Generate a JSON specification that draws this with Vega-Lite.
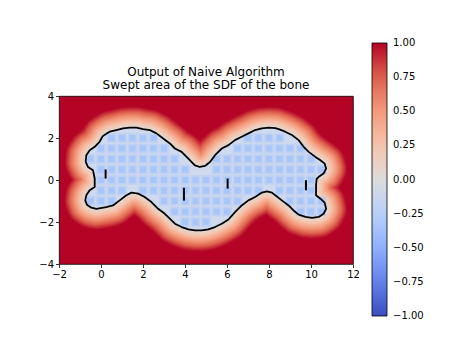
{
  "$schema": "https://vega.github.io/schema/vega-lite/v6.json",
  "width": 294,
  "height": 168,
  "autosize": {"type": "none"},
  "padding": {"left": 59, "top": 96, "right": 121, "bottom": 91},
  "background": "white",
  "config": {
    "view": {"fill": "#b40426", "stroke": "black", "strokeWidth": 0.8},
    "font": "DejaVu Sans",
    "axis": {"grid": false, "domain": false, "tickColor": "black", "tickSize": 3.5, "tickWidth": 0.8, "labelColor": "black", "labelFontSize": 10, "labelFont": "DejaVu Sans", "labelPadding": 2, "labelFlush": false, "title": null}
  },
  "title": {"text": ["Output of Naive Algorithm", "Swept area of the SDF of the bone"], "fontSize": 12, "fontWeight": "normal", "font": "DejaVu Sans", "color": "black", "anchor": "middle", "offset": 6, "lineHeight": 13, "dy": 55},
  "datasets": {
    "boundary": [
      {"i": 1, "x": -0.73, "y": 0.86},
      {"i": 2, "x": -0.70, "y": 1.18},
      {"i": 3, "x": -0.54, "y": 1.42},
      {"i": 4, "x": -0.30, "y": 1.58},
      {"i": 5, "x": -0.07, "y": 1.82},
      {"i": 6, "x": 0.09, "y": 2.10},
      {"i": 7, "x": 0.41, "y": 2.30},
      {"i": 8, "x": 0.73, "y": 2.38},
      {"i": 9, "x": 1.05, "y": 2.46},
      {"i": 10, "x": 1.37, "y": 2.49},
      {"i": 11, "x": 1.69, "y": 2.49},
      {"i": 12, "x": 2.00, "y": 2.42},
      {"i": 13, "x": 2.32, "y": 2.38},
      {"i": 14, "x": 2.64, "y": 2.22},
      {"i": 15, "x": 2.96, "y": 1.98},
      {"i": 16, "x": 3.28, "y": 1.74},
      {"i": 17, "x": 3.52, "y": 1.50},
      {"i": 18, "x": 3.84, "y": 1.34},
      {"i": 19, "x": 4.16, "y": 1.02},
      {"i": 20, "x": 4.47, "y": 0.70},
      {"i": 21, "x": 4.71, "y": 0.62},
      {"i": 22, "x": 4.95, "y": 0.67},
      {"i": 23, "x": 5.19, "y": 0.86},
      {"i": 24, "x": 5.43, "y": 1.18},
      {"i": 25, "x": 5.75, "y": 1.50},
      {"i": 26, "x": 6.07, "y": 1.66},
      {"i": 27, "x": 6.38, "y": 1.90},
      {"i": 28, "x": 6.70, "y": 2.06},
      {"i": 29, "x": 7.02, "y": 2.22},
      {"i": 30, "x": 7.34, "y": 2.38},
      {"i": 31, "x": 7.66, "y": 2.46},
      {"i": 32, "x": 7.98, "y": 2.49},
      {"i": 33, "x": 8.30, "y": 2.47},
      {"i": 34, "x": 8.46, "y": 2.42},
      {"i": 35, "x": 8.77, "y": 2.30},
      {"i": 36, "x": 9.09, "y": 2.14},
      {"i": 37, "x": 9.41, "y": 1.90},
      {"i": 38, "x": 9.65, "y": 1.58},
      {"i": 39, "x": 9.89, "y": 1.34},
      {"i": 40, "x": 10.21, "y": 1.10},
      {"i": 41, "x": 10.45, "y": 0.94},
      {"i": 42, "x": 10.65, "y": 0.78},
      {"i": 43, "x": 10.72, "y": 0.54},
      {"i": 44, "x": 10.60, "y": 0.31},
      {"i": 45, "x": 10.37, "y": 0.15},
      {"i": 46, "x": 10.27, "y": 0.05},
      {"i": 47, "x": 10.24, "y": -0.25},
      {"i": 48, "x": 10.24, "y": -0.73},
      {"i": 49, "x": 10.45, "y": -0.89},
      {"i": 50, "x": 10.65, "y": -1.08},
      {"i": 51, "x": 10.72, "y": -1.37},
      {"i": 52, "x": 10.60, "y": -1.61},
      {"i": 53, "x": 10.37, "y": -1.76},
      {"i": 54, "x": 10.05, "y": -1.80},
      {"i": 55, "x": 9.73, "y": -1.76},
      {"i": 56, "x": 9.41, "y": -1.65},
      {"i": 57, "x": 9.17, "y": -1.45},
      {"i": 58, "x": 8.93, "y": -1.21},
      {"i": 59, "x": 8.61, "y": -0.97},
      {"i": 60, "x": 8.30, "y": -0.73},
      {"i": 61, "x": 8.14, "y": -0.60},
      {"i": 62, "x": 7.90, "y": -0.54},
      {"i": 63, "x": 7.66, "y": -0.60},
      {"i": 64, "x": 7.34, "y": -0.81},
      {"i": 65, "x": 7.02, "y": -0.97},
      {"i": 66, "x": 6.70, "y": -1.21},
      {"i": 67, "x": 6.38, "y": -1.53},
      {"i": 68, "x": 6.07, "y": -1.88},
      {"i": 69, "x": 5.75, "y": -2.08},
      {"i": 70, "x": 5.43, "y": -2.24},
      {"i": 71, "x": 5.11, "y": -2.35},
      {"i": 72, "x": 4.79, "y": -2.40},
      {"i": 73, "x": 4.47, "y": -2.40},
      {"i": 74, "x": 4.16, "y": -2.35},
      {"i": 75, "x": 3.84, "y": -2.24},
      {"i": 76, "x": 3.52, "y": -2.08},
      {"i": 77, "x": 3.36, "y": -1.92},
      {"i": 78, "x": 3.04, "y": -1.61},
      {"i": 79, "x": 2.72, "y": -1.37},
      {"i": 80, "x": 2.40, "y": -1.05},
      {"i": 81, "x": 2.08, "y": -0.81},
      {"i": 82, "x": 1.77, "y": -0.65},
      {"i": 83, "x": 1.45, "y": -0.60},
      {"i": 84, "x": 1.21, "y": -0.73},
      {"i": 85, "x": 0.89, "y": -0.97},
      {"i": 86, "x": 0.57, "y": -1.21},
      {"i": 87, "x": 0.25, "y": -1.29},
      {"i": 88, "x": -0.22, "y": -1.37},
      {"i": 89, "x": -0.46, "y": -1.32},
      {"i": 90, "x": -0.67, "y": -1.18},
      {"i": 91, "x": -0.75, "y": -0.97},
      {"i": 92, "x": -0.70, "y": -0.73},
      {"i": 93, "x": -0.54, "y": -0.49},
      {"i": 94, "x": -0.30, "y": -0.33},
      {"i": 95, "x": -0.30, "y": 0.07},
      {"i": 96, "x": -0.38, "y": 0.46},
      {"i": 97, "x": -0.62, "y": 0.62},
      {"i": 98, "x": -0.73, "y": 0.86}
    ],
    "blobs": [
      {"x": -0.5, "y": 1.0}, {"x": -0.5, "y": -1.0},
      {"x": 0, "y": 1.5}, {"x": 0, "y": 1.0}, {"x": 0, "y": 0.5}, {"x": 0, "y": 0}, {"x": 0, "y": -0.5}, {"x": 0, "y": -1.0},
      {"x": 0.5, "y": 2.0}, {"x": 0.5, "y": 1.5}, {"x": 0.5, "y": 1.0}, {"x": 0.5, "y": 0.5}, {"x": 0.5, "y": 0}, {"x": 0.5, "y": -0.5}, {"x": 0.5, "y": -1.0},
      {"x": 1, "y": 2.0}, {"x": 1, "y": 1.5}, {"x": 1, "y": 1.0}, {"x": 1, "y": 0.5}, {"x": 1, "y": 0}, {"x": 1, "y": -0.5},
      {"x": 1.5, "y": 2.0}, {"x": 1.5, "y": 1.5}, {"x": 1.5, "y": 1.0}, {"x": 1.5, "y": 0.5}, {"x": 1.5, "y": 0},
      {"x": 2, "y": 2.0}, {"x": 2, "y": 1.5}, {"x": 2, "y": 1.0}, {"x": 2, "y": 0.5}, {"x": 2, "y": 0}, {"x": 2, "y": -0.5},
      {"x": 2.5, "y": 2.0}, {"x": 2.5, "y": 1.5}, {"x": 2.5, "y": 1.0}, {"x": 2.5, "y": 0.5}, {"x": 2.5, "y": 0}, {"x": 2.5, "y": -0.5},
      {"x": 3, "y": 1.5}, {"x": 3, "y": 1.0}, {"x": 3, "y": 0.5}, {"x": 3, "y": 0}, {"x": 3, "y": -0.5}, {"x": 3, "y": -1.0},
      {"x": 3.5, "y": 1.0}, {"x": 3.5, "y": 0.5}, {"x": 3.5, "y": 0}, {"x": 3.5, "y": -0.5}, {"x": 3.5, "y": -1.0}, {"x": 3.5, "y": -1.5},
      {"x": 4, "y": 0.5}, {"x": 4, "y": 0}, {"x": 4, "y": -0.5}, {"x": 4, "y": -1.0}, {"x": 4, "y": -1.5}, {"x": 4, "y": -2.0},
      {"x": 4.5, "y": 0}, {"x": 4.5, "y": -0.5}, {"x": 4.5, "y": -1.0}, {"x": 4.5, "y": -1.5}, {"x": 4.5, "y": -2.0},
      {"x": 5, "y": 0}, {"x": 5, "y": -0.5}, {"x": 5, "y": -1.0}, {"x": 5, "y": -1.5}, {"x": 5, "y": -2.0},
      {"x": 5.5, "y": 1.0}, {"x": 5.5, "y": 0.5}, {"x": 5.5, "y": 0}, {"x": 5.5, "y": -0.5}, {"x": 5.5, "y": -1.0}, {"x": 5.5, "y": -1.5},
      {"x": 6, "y": 1.0}, {"x": 6, "y": 0.5}, {"x": 6, "y": 0}, {"x": 6, "y": -0.5}, {"x": 6, "y": -1.0}, {"x": 6, "y": -1.5},
      {"x": 6.5, "y": 1.5}, {"x": 6.5, "y": 1.0}, {"x": 6.5, "y": 0.5}, {"x": 6.5, "y": 0}, {"x": 6.5, "y": -0.5}, {"x": 6.5, "y": -1.0},
      {"x": 7, "y": 2.0}, {"x": 7, "y": 1.5}, {"x": 7, "y": 1.0}, {"x": 7, "y": 0.5}, {"x": 7, "y": 0}, {"x": 7, "y": -0.5},
      {"x": 7.5, "y": 2.0}, {"x": 7.5, "y": 1.5}, {"x": 7.5, "y": 1.0}, {"x": 7.5, "y": 0.5}, {"x": 7.5, "y": 0}, {"x": 7.5, "y": -0.5},
      {"x": 8, "y": 2.0}, {"x": 8, "y": 1.5}, {"x": 8, "y": 1.0}, {"x": 8, "y": 0.5}, {"x": 8, "y": 0},
      {"x": 8.5, "y": 2.0}, {"x": 8.5, "y": 1.5}, {"x": 8.5, "y": 1.0}, {"x": 8.5, "y": 0.5}, {"x": 8.5, "y": 0}, {"x": 8.5, "y": -0.5},
      {"x": 9, "y": 1.5}, {"x": 9, "y": 1.0}, {"x": 9, "y": 0.5}, {"x": 9, "y": 0}, {"x": 9, "y": -0.5}, {"x": 9, "y": -1.0},
      {"x": 9.5, "y": 1.5}, {"x": 9.5, "y": 1.0}, {"x": 9.5, "y": 0.5}, {"x": 9.5, "y": 0}, {"x": 9.5, "y": -0.5}, {"x": 9.5, "y": -1.0}, {"x": 9.5, "y": -1.5},
      {"x": 10, "y": 1.0}, {"x": 10, "y": 0.5}, {"x": 10, "y": 0}, {"x": 10, "y": -0.5}, {"x": 10, "y": -1.0}, {"x": 10, "y": -1.5},
      {"x": 10.5, "y": 0.5}, {"x": 10.5, "y": -1.0}, {"x": 10.5, "y": -1.5}
    ],
    "bone": [
      {"x": 0.22, "y": 0.07, "y2": 0.5},
      {"x": 3.95, "y": -0.98, "y2": -0.37},
      {"x": 6.03, "y": -0.41, "y2": 0.07},
      {"x": 9.76, "y": -0.49, "y2": -0.01}
    ]
  },
  "layer": [
    {
      "data": {"name": "boundary"},
      "encoding": {
        "x": {"field": "x", "type": "quantitative", "scale": {"domain": [-2, 12], "nice": false, "zero": false}, "axis": {"values": [-2, 0, 2, 4, 6, 8, 10, 12]}},
        "y": {"field": "y", "type": "quantitative", "scale": {"domain": [-4, 4], "nice": false, "zero": false}, "axis": {"values": [-4, -3, -2, -1, 0, 1, 2, 3, 4]}},
        "order": {"field": "i", "type": "quantitative"}
      },
      "layer": [
        {"mark": {"type": "line", "strokeWidth": 42, "strokeJoin": "round", "strokeCap": "round"},
         "encoding": {"color": {"datum": 0.975, "type": "quantitative",
           "scale": {"domain": [-1, -0.75, -0.5, -0.25, 0, 0.25, 0.5, 0.75, 1], "range": ["#3b4cc0", "#6282ea", "#8db0fe", "#b8d0f9", "#dddcdc", "#f5c4ac", "#f49a7b", "#de604d", "#b40426"], "interpolate": "rgb"},
           "legend": {"orient": "none", "legendX": 313, "legendY": -53, "direction": "vertical", "gradientLength": 273, "gradientThickness": 15, "title": null, "values": [-1, -0.75, -0.5, -0.25, 0, 0.25, 0.5, 0.75, 1], "format": ".2f", "labelFontSize": 10, "labelFont": "DejaVu Sans", "labelColor": "black", "labelOverlap": false, "labelOffset": 6, "gradientStrokeColor": "black", "gradientStrokeWidth": 0.8,
             "encode": {"labels": {"update": {"baseline": {"value": "middle"}}}}}}}},
        {"mark": {"type": "line", "strokeWidth": 39.9, "strokeJoin": "round", "strokeCap": "round"}, "encoding": {"color": {"datum": 0.925, "type": "quantitative"}}},
        {"mark": {"type": "line", "strokeWidth": 37.8, "strokeJoin": "round", "strokeCap": "round"}, "encoding": {"color": {"datum": 0.875, "type": "quantitative"}}},
        {"mark": {"type": "line", "strokeWidth": 35.7, "strokeJoin": "round", "strokeCap": "round"}, "encoding": {"color": {"datum": 0.825, "type": "quantitative"}}},
        {"mark": {"type": "line", "strokeWidth": 33.6, "strokeJoin": "round", "strokeCap": "round"}, "encoding": {"color": {"datum": 0.775, "type": "quantitative"}}},
        {"mark": {"type": "line", "strokeWidth": 31.5, "strokeJoin": "round", "strokeCap": "round"}, "encoding": {"color": {"datum": 0.725, "type": "quantitative"}}},
        {"mark": {"type": "line", "strokeWidth": 29.4, "strokeJoin": "round", "strokeCap": "round"}, "encoding": {"color": {"datum": 0.675, "type": "quantitative"}}},
        {"mark": {"type": "line", "strokeWidth": 27.3, "strokeJoin": "round", "strokeCap": "round"}, "encoding": {"color": {"datum": 0.625, "type": "quantitative"}}},
        {"mark": {"type": "line", "strokeWidth": 25.2, "strokeJoin": "round", "strokeCap": "round"}, "encoding": {"color": {"datum": 0.575, "type": "quantitative"}}},
        {"mark": {"type": "line", "strokeWidth": 23.1, "strokeJoin": "round", "strokeCap": "round"}, "encoding": {"color": {"datum": 0.525, "type": "quantitative"}}},
        {"mark": {"type": "line", "strokeWidth": 21, "strokeJoin": "round", "strokeCap": "round"}, "encoding": {"color": {"datum": 0.475, "type": "quantitative"}}},
        {"mark": {"type": "line", "strokeWidth": 18.9, "strokeJoin": "round", "strokeCap": "round"}, "encoding": {"color": {"datum": 0.425, "type": "quantitative"}}},
        {"mark": {"type": "line", "strokeWidth": 16.8, "strokeJoin": "round", "strokeCap": "round"}, "encoding": {"color": {"datum": 0.375, "type": "quantitative"}}},
        {"mark": {"type": "line", "strokeWidth": 14.7, "strokeJoin": "round", "strokeCap": "round"}, "encoding": {"color": {"datum": 0.325, "type": "quantitative"}}},
        {"mark": {"type": "line", "strokeWidth": 12.6, "strokeJoin": "round", "strokeCap": "round"}, "encoding": {"color": {"datum": 0.275, "type": "quantitative"}}},
        {"mark": {"type": "line", "strokeWidth": 10.5, "strokeJoin": "round", "strokeCap": "round"}, "encoding": {"color": {"datum": 0.225, "type": "quantitative"}}},
        {"mark": {"type": "line", "strokeWidth": 8.4, "strokeJoin": "round", "strokeCap": "round"}, "encoding": {"color": {"datum": 0.175, "type": "quantitative"}}},
        {"mark": {"type": "line", "strokeWidth": 6.3, "strokeJoin": "round", "strokeCap": "round"}, "encoding": {"color": {"datum": 0.125, "type": "quantitative"}}},
        {"mark": {"type": "line", "strokeWidth": 4.2, "strokeJoin": "round", "strokeCap": "round"}, "encoding": {"color": {"datum": 0.075, "type": "quantitative"}}},
        {"mark": {"type": "line", "fill": "#cfdaee", "strokeWidth": 0}}
      ]
    },
    {
      "data": {"name": "blobs"},
      "mark": {"type": "point", "shape": "square", "filled": true, "size": 90, "opacity": 0.35, "color": "#9ec0fd", "strokeWidth": 0},
      "encoding": {
        "x": {"field": "x", "type": "quantitative"},
        "y": {"field": "y", "type": "quantitative"}
      }
    },
    {
      "data": {"name": "blobs"},
      "mark": {"type": "point", "shape": "square", "filled": true, "size": 36, "opacity": 0.65, "color": "#9ec0fd", "strokeWidth": 0},
      "encoding": {
        "x": {"field": "x", "type": "quantitative"},
        "y": {"field": "y", "type": "quantitative"}
      }
    },
    {
      "data": {"name": "boundary"},
      "mark": {"type": "line", "color": "black", "strokeWidth": 1.8, "strokeJoin": "round"},
      "encoding": {
        "x": {"field": "x", "type": "quantitative"},
        "y": {"field": "y", "type": "quantitative"},
        "order": {"field": "i", "type": "quantitative"}
      }
    },
    {
      "data": {"name": "bone"},
      "mark": {"type": "rule", "color": "black", "strokeWidth": 2},
      "encoding": {
        "x": {"field": "x", "type": "quantitative"},
        "y": {"field": "y", "type": "quantitative"},
        "y2": {"field": "y2"}
      }
    }
  ]
}
